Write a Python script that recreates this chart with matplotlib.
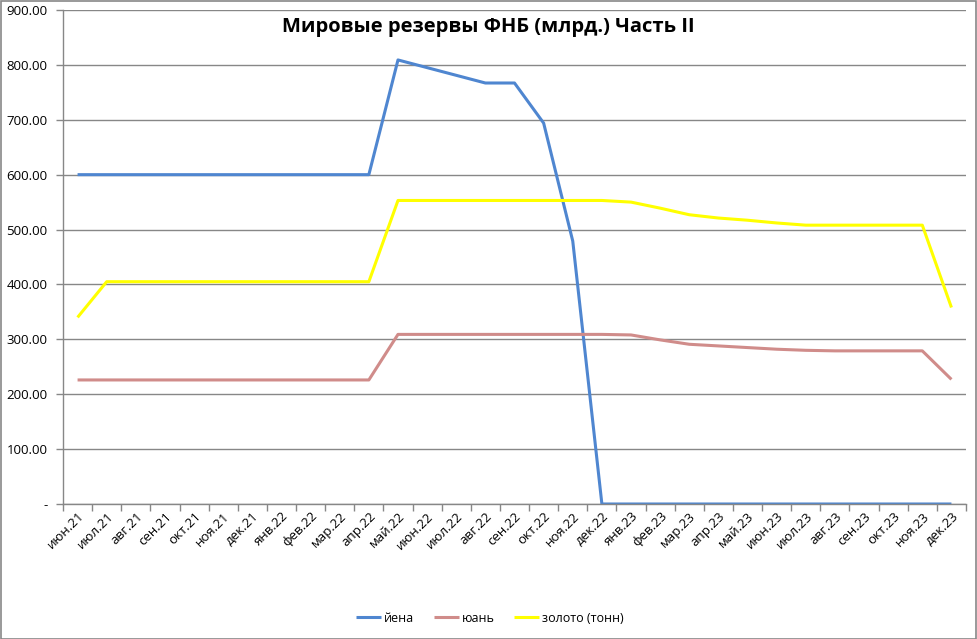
import matplotlib
matplotlib.use("Agg")
import matplotlib.pyplot as plt
from matplotlib.patches import Rectangle
from matplotlib.ticker import FixedLocator, NullFormatter

plt.rcParams['font.family'] = ['Open Sans', 'DejaVu Sans']

months = ["июн.21", "июл.21", "авг.21", "сен.21", "окт.21", "ноя.21", "дек.21",
          "янв.22", "фев.22", "мар.22", "апр.22", "май.22", "июн.22", "июл.22",
          "авг.22", "сен.22", "окт.22", "ноя.22", "дек.22", "янв.23", "фев.23",
          "мар.23", "апр.23", "май.23", "июн.23", "июл.23", "авг.23", "сен.23",
          "окт.23", "ноя.23", "дек.23"]

yen = [600, 600, 600, 600, 600, 600, 600, 600, 600, 600, 600,
       809, 795, 781, 767, 767, 694, 479, 0,
       0, 0, 0, 0, 0, 0, 0, 0, 0, 0, 0, 0]

yuan = [226, 226, 226, 226, 226, 226, 226, 226, 226, 226, 226,
        309, 309, 309, 309, 309, 309, 309, 309,
        308, 299, 291, 288, 285, 282, 280, 279, 279, 279, 279, 227]

gold = [340, 405, 405, 405, 405, 405, 405, 405, 405, 405, 405,
        553, 553, 553, 553, 553, 553, 553, 553,
        550, 539, 527, 521, 517, 512, 508, 508, 508, 508, 508, 358]

series_names = ["йена", "юань", "золото (тонн)"]
colors = ["#4F86D0", "#D08C8A", "#FFFF00"]
title = "Мировые резервы ФНБ (млрд.) Часть II"
y_ticks = [0, 100, 200, 300, 400, 500, 600, 700, 800, 900]

W, H = 977, 639
fig = plt.figure(figsize=(W / 100, H / 100), dpi=100)
ax = fig.add_axes([63 / W, 1 - 504 / H, (966 - 63) / W, (504 - 10) / H])

x = list(range(len(months)))
for vals, name, c in zip([yen, yuan, gold], series_names, colors):
    ax.plot(x, vals, color=c, lw=2.2, label=name, solid_capstyle='butt')

ax.set_xlim(-0.5, len(months) - 0.5)
ax.set_ylim(0, 900)
ax.set_yticks(y_ticks)
ax.set_yticklabels(["-" if v == 0 else f"{v:.2f}" for v in y_ticks], fontsize=9.5)
ax.yaxis.grid(True, color="#878787", lw=1)
ax.set_axisbelow(True)

ax.set_xticks(x)
ax.set_xticklabels(months, rotation=45, ha="right", rotation_mode="anchor", fontsize=9.5)
ax.tick_params(axis="x", length=0, pad=4)
ax.xaxis.set_minor_locator(FixedLocator([i - 0.5 for i in range(len(months) + 1)]))
ax.xaxis.set_minor_formatter(NullFormatter())
ax.tick_params(axis="x", which="minor", length=5, color="#878787", width=1)
ax.tick_params(axis="y", length=5, color="#878787", width=1, pad=6)

for s in ["top", "right"]:
    ax.spines[s].set_visible(False)
for s in ["left", "bottom"]:
    ax.spines[s].set_color("#878787")
    ax.spines[s].set_linewidth(1)

fig.text(488 / W, 1 - 27 / H, title, ha="center", va="center",
         fontsize=14.5, fontweight="bold")

fig.legend(loc="center", bbox_to_anchor=(490 / W, 1 - 618 / H), ncol=3,
           frameon=False, fontsize=9, handlelength=2.0, columnspacing=1.6,
           handletextpad=0.2)

fig.patches.append(Rectangle((0.5 / W, 0.5 / H), 1 - 1.5 / W, 1 - 1.5 / H,
                             transform=fig.transFigure, fill=False,
                             edgecolor="#878787", lw=1.2))

fig.savefig("out.png", dpi=100)
